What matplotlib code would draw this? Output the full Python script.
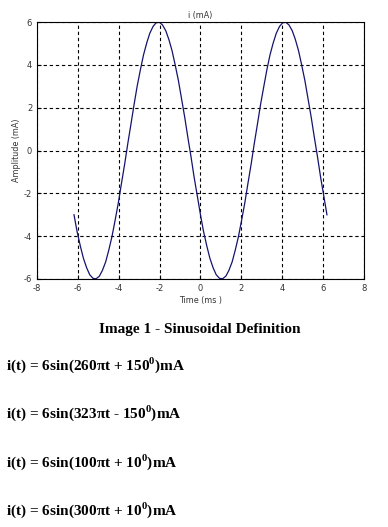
import matplotlib
matplotlib.use("Agg")
import matplotlib.pyplot as plt

# valores (tempo em ms, corrente em mA)
t_ms = [-6.19, -6.04, -5.88, -5.73, -5.57, -5.42, -5.26, -5.11, -4.95, -4.80,
        -4.64, -4.49, -4.33, -4.18, -4.02, -3.87, -3.71, -3.56, -3.40, -3.25,
        -3.10, -2.94, -2.79, -2.63, -2.48, -2.32, -2.17, -2.01, -1.86, -1.70,
        -1.55, -1.39, -1.24, -1.08, -0.93, -0.77, -0.62, -0.46, -0.31, -0.15,
        0.00, 0.15, 0.31, 0.46, 0.62, 0.77, 0.93, 1.08, 1.24, 1.39,
        1.55, 1.70, 1.86, 2.01, 2.17, 2.32, 2.48, 2.63, 2.79, 2.94,
        3.10, 3.25, 3.40, 3.56, 3.71, 3.87, 4.02, 4.18, 4.33, 4.49,
        4.64, 4.80, 4.95, 5.11, 5.26, 5.42, 5.57, 5.73, 5.88, 6.04, 6.19]
i_ma = [-3.00, -3.78, -4.46, -5.03, -5.48, -5.80, -5.97, -5.99, -5.87, -5.60,
        -5.20, -4.66, -4.01, -3.27, -2.44, -1.55, -0.63, 0.31, 1.25, 2.15,
        3.00, 3.78, 4.46, 5.03, 5.48, 5.80, 5.97, 5.99, 5.87, 5.60,
        5.20, 4.66, 4.01, 3.27, 2.44, 1.55, 0.63, -0.31, -1.25, -2.15,
        -3.00, -3.78, -4.46, -5.03, -5.48, -5.80, -5.97, -5.99, -5.87, -5.60,
        -5.20, -4.66, -4.01, -3.27, -2.44, -1.55, -0.63, 0.31, 1.25, 2.15,
        3.00, 3.78, 4.46, 5.03, 5.48, 5.80, 5.97, 5.99, 5.87, 5.60,
        5.20, 4.66, 4.01, 3.27, 2.44, 1.55, 0.63, -0.31, -1.25, -2.15, -3.00]

x_ticks = [-8, -6, -4, -2, 0, 2, 4, 6, 8]
y_ticks = [-6, -4, -2, 0, 2, 4, 6]

caption = "Image 1 - Sinusoidal Definition"
equations = [
    r"i(t) = 6sin(260πt + 150$^{\mathbf{0}}$)mA",
    r"i(t) = 6sin(323πt - 150$^{\mathbf{0}}$)mA",
    r"i(t) = 6sin(100πt + 10$^{\mathbf{0}}$)mA",
    r"i(t) = 6sin(300πt + 10$^{\mathbf{0}}$)mA",
]


def main():
    plt.rcParams["mathtext.fontset"] = "custom"
    plt.rcParams["mathtext.bf"] = "Liberation Serif:bold"
    plt.rcParams["mathtext.rm"] = "Liberation Serif"
    plt.rcParams["axes.unicode_minus"] = False

    fig = plt.figure(figsize=(3.88, 5.27), dpi=100)
    ax = fig.add_axes([0.0954, 0.4706, 0.8426, 0.4874])

    ax.plot(t_ms, i_ma, color="#14146e", linewidth=0.9)
    ax.set_xlim(-8, 8)
    ax.set_ylim(-6, 6)
    ax.set_xticks(x_ticks)
    ax.set_yticks(y_ticks)
    ax.grid(True, color="black", linestyle=(0, (3, 2.5)), linewidth=0.8)
    ax.tick_params(direction="in", labelsize=6, labelcolor="#333333", length=3)
    for s in ax.spines.values():
        s.set_linewidth(0.8)

    ax.set_title("i (mA)", fontsize=5.8, color="#333333", pad=3)
    ax.set_xlabel("Time (ms )", fontsize=5.8, color="#333333", labelpad=2)
    ax.set_ylabel("Amplitude (mA)", fontsize=5.8, color="#333333", labelpad=2)

    fig.text(200 / 388, 1 - 330 / 527, caption, ha="center", va="center",
             family="Liberation Serif", fontweight="bold", fontsize=11)
    rows = [365, 413, 462, 510]
    for eq, yp in zip(equations, rows):
        fig.text(6 / 388, 1 - yp / 527, eq, ha="left", va="center",
                 family="Liberation Serif", fontweight="bold", fontsize=11)

    fig.savefig("out.png", dpi=100)


if __name__ == "__main__":
    main()
